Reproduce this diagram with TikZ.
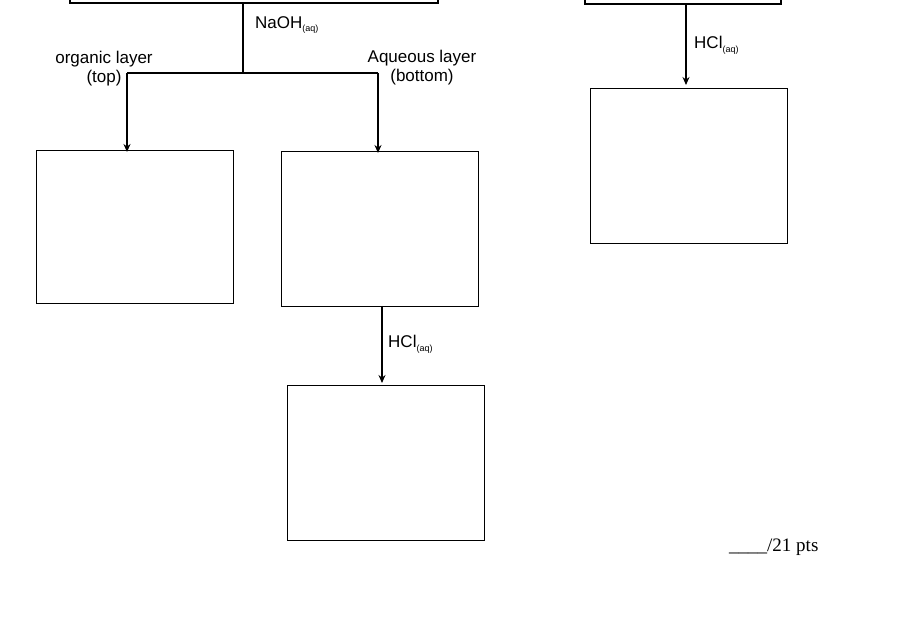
\documentclass[tikz,border=0pt]{standalone}
\usepackage{fontspec}
\setmainfont{Liberation Sans}
\newfontfamily\tnr{Liberation Serif}
\usetikzlibrary{arrows.meta}
\newcommand{\aqsub}{\raisebox{-0.4ex}{\fontsize{9}{10}\selectfont(aq)}}
\begin{document}
\begin{tikzpicture}[x=1pt,y=-1pt,
  bx/.style={draw,line width=1.3pt},
  ln/.style={line width=1.3pt},
  ar/.style={line width=1.3pt,-{Stealth[length=8pt,width=7pt]}},
  lb/.style={font=\fontsize{17}{19}\selectfont,align=center,inner sep=0pt}]
\useasboundingbox (0,0) rectangle (902,617);
\draw[bx] (70,-10) rectangle (438,3);
\draw[bx] (585,-10) rectangle (781,4);
\node[bx,minimum width=197,minimum height=153,inner sep=0,anchor=north west] (L) at (36,150) {};
\node[bx,minimum width=197,minimum height=155,inner sep=0,anchor=north west] (M) at (281,151) {};
\node[bx,minimum width=197,minimum height=155,inner sep=0,anchor=north west] (B) at (287,385) {};
\node[bx,minimum width=197,minimum height=155,inner sep=0,anchor=north west] (R) at (590,88) {};
\coordinate (t) at (243,3);
\coordinate (j) at (243,73);
\coordinate (jl) at (127,73);
\coordinate (jr) at (378,73);
\draw[ln] (t) -- (j);
\draw[ln] (jl) -- (jr);
\draw[ar] (jl) -- (127,152);
\draw[ar] (jr) -- (378,153);
\draw[ar] (382,306) -- (382,383);
\draw[ar] (686,4) -- (686,85);
\node[lb,anchor=west] (n1) at (255,25) {NaOH\aqsub};
\node[lb] (n2) at (104,69) {organic layer\\(top)};
\node[lb] (n3) at (422,68) {Aqueous layer\\(bottom)};
\node[lb,anchor=west] (n4) at (694,45) {HCl\aqsub};
\node[lb,anchor=west] (n5) at (388,344) {HCl\aqsub};
\node[anchor=west,inner sep=0,font=\tnr\fontsize{19}{21}\selectfont] (p) at (729,547) {\_\_\_\_/21 pts};
\end{tikzpicture}
\end{document}
